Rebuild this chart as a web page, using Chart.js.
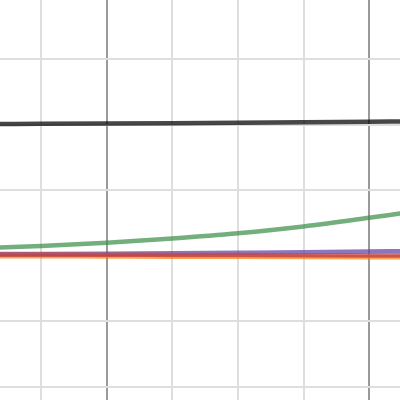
<!DOCTYPE html>
<html>
<head>
<meta charset="utf-8">
<script src="https://cdn.jsdelivr.net/npm/chart.js@4"></script>
<style>
  html, body { margin: 0; padding: 0; background: #ffffff; }
  #wrap { width: 400px; height: 400px; }
</style>
</head>
<body>
<div id="wrap"><canvas id="c" width="400" height="400"></canvas></div>
<script>
// Sample x positions (graph units)
const xValues = [-1.627, -1, 0, 1, 2, 3, 4, 4.471];
// Series values
const blackValues  = [2.009, 2.011, 2.015, 2.020, 2.027, 2.035, 2.044, 2.048];
const greenValues  = [0.127, 0.149, 0.200, 0.264, 0.343, 0.447, 0.579, 0.645];
const purpleValues = [0.027, 0.029, 0.033, 0.038, 0.045, 0.053, 0.064, 0.070];
const redValues    = [0.020, 0.019, 0.017, 0.014, 0.011, 0.008, 0.005, 0.004];
const orangeValues = [-0.005, -0.007, -0.010, -0.013, -0.016, -0.019, -0.022, -0.023];

const X_MIN = -1.627, X_MAX = 4.471;
const Y_MIN = -2.198, Y_MAX = 3.899;

function pts(ys) { return xValues.map((x, i) => ({ x: x, y: ys[i] })); }

function ds(ys, color) {
  return {
    data: pts(ys),
    borderColor: color,
    borderWidth: 4.5,
    pointRadius: 0,
    fill: false,
    cubicInterpolationMode: 'monotone',
    showLine: true,
    borderCapStyle: 'round',
    borderJoinStyle: 'round'
  };
}

const MINOR = '#dedede', MAJOR = '#9a9a9a';

new Chart(document.getElementById('c'), {
  type: 'scatter',
  data: {
    datasets: [
      ds(redValues,    'rgba(199,68,64,0.75)'),
      ds(purpleValues, 'rgba(96,66,166,0.72)'),
      ds(orangeValues, 'rgba(250,126,25,0.72)'),
      ds(greenValues,  'rgba(56,140,70,0.70)'),
      ds(blackValues,  'rgba(0,0,0,0.72)')
    ]
  },
  options: {
    responsive: false,
    animation: false,
    devicePixelRatio: 1,
    layout: { padding: 0 },
    plugins: { legend: { display: false }, tooltip: { enabled: false } },
    scales: {
      x: {
        type: 'linear',
        min: X_MIN, max: X_MAX,
        border: { display: false },
        ticks: { display: false, stepSize: 1, includeBounds: false, padding: 0 },
        grid: {
          drawTicks: false,
          lineWidth: 2,
          color: (ctx) => (ctx.tick && Math.round(ctx.tick.value) % 4 === 0) ? MAJOR : MINOR
        }
      },
      y: {
        type: 'linear',
        min: Y_MIN, max: Y_MAX,
        border: { display: false },
        ticks: { display: false, stepSize: 1, includeBounds: false, padding: 0 },
        grid: {
          drawTicks: false,
          lineWidth: 2,
          color: (ctx) => (ctx.tick && Math.round(ctx.tick.value) === 0) ? MAJOR : MINOR
        }
      }
    }
  }
});
</script>
</body>
</html>
